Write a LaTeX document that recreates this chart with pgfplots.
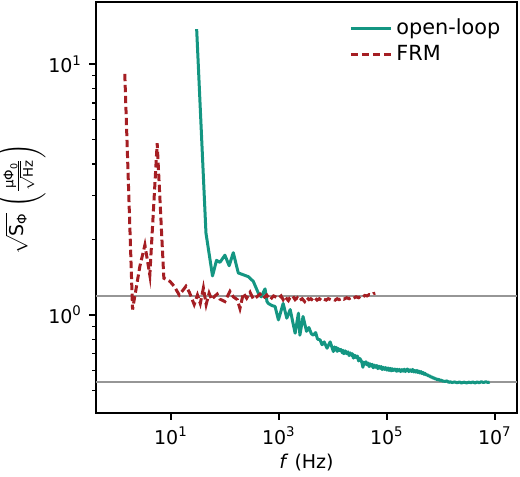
\documentclass[border=0pt]{standalone}
\usepackage{fontspec}
\setmainfont{DejaVu Sans}
\usepackage{amsmath}
\usepackage{pgfplots}
\pgfplotsset{compat=1.18}
\definecolor{olgreen}{RGB}{20,150,130}
\definecolor{frmred}{RGB}{165,30,35}
\definecolor{refgray}{RGB}{150,150,150}
\begin{document}
\begin{tikzpicture}[font=\fontsize{9.5}{11.4}\selectfont]
\path[use as bounding box] (-48pt,-32pt) rectangle (212pt,206.5pt);
\begin{axis}[
  at={(0,0)}, anchor=south west, scale only axis,
  width=210.5pt, height=205.5pt,
  xmode=log, ymode=log,
  xmin=0.41, xmax=2.57e7, ymin=0.406, ymax=17.7,
  axis line style={line width=0.9pt},
  tick align=outside, tick pos=left,
  xtick={10,1000,100000,10000000},
  xticklabels={10\textsuperscript{1},10\textsuperscript{3},10\textsuperscript{5},10\textsuperscript{7}},
  minor xtick={},
  ytick={1,10},
  yticklabels={10\textsuperscript{0},10\textsuperscript{1}},
  minor ytick={0.5,0.6,0.7,0.8,0.9,2,3,4,5,6,7,8,9},
  major tick length=3.5pt, minor tick length=2pt,
  every tick/.style={black, line width=0.8pt},
  every minor tick/.style={black, line width=0.6pt},
  xlabel={\textit{f} (Hz)},
  ylabel={$\sqrt{\text{S}_{\text{Φ}}}\;\Biggl(\frac{\text{μΦ}_{\text{0}}}{\sqrt{\text{Hz}}}\Biggr)$},
  xlabel style={at={(axis description cs:0.5,-0.1217)}, anchor=center},
  ylabel style={at={(axis description cs:-0.184,0.52)}, anchor=center, inner sep=0pt},
  legend style={draw=none, fill=none, at={(axis description cs:0.985,0.98)}, anchor=north east,
    row sep=0pt, font=\fontsize{10.4}{12.5}\selectfont},
  legend cell align=left,
  legend image code/.code={\draw[#1] (0pt,0pt) -- (20pt,0pt);},
]
\addplot[refgray, line width=1pt, forget plot] coordinates {(0.41,1.19) (2.57e7,1.19)};
\addplot[refgray, line width=1pt, forget plot] coordinates {(0.41,0.541) (2.57e7,0.541)};
\addplot[olgreen, line width=1.5pt, line join=round] coordinates {
(30,13.8) (44.6,2.12) (59,1.43) (70,1.65) (81,1.62) (100,1.73) (120,1.57) (143,1.77)
(177,1.47) (272,1.42) (336,1.36) (417,1.22) (470,1.18) (555,1.27) (602,1.13) (640,1.11)
(740,1.09) (850,1.08) (980,0.955) (1100,1.04) (1200,1.11) (1400,0.97) (1620,1.05)
(1820,0.93) (2000,0.845) (2300,1.015) (2450,0.83) (2800,0.985) (3250,0.86) (3600,0.89)
(4000,0.84) (4350,0.83) (4800,0.85) (5200,0.80) (5800,0.795) (6300,0.76) (6900,0.78)
(7800,0.736) (8900,0.78) (10200,0.714) (10700,0.745) (11000,0.725) (11500,0.742)
(12000,0.715) (12500,0.735) (13000,0.72) (14000,0.728) (15000,0.705) (15500,0.722)
(16000,0.70) (17000,0.718) (18000,0.70) (19000,0.712) (20000,0.688) (21000,0.705)
(22000,0.69) (23000,0.70) (24000,0.672) (25500,0.69) (27000,0.675) (28500,0.685)
(30000,0.655) (31500,0.67) (33000,0.66) (34500,0.645) (36000,0.618) (37500,0.648)
(39000,0.635) (41000,0.65) (43000,0.632) (45000,0.642) (47000,0.622) (49000,0.638)
(51000,0.625) (53500,0.635) (56000,0.615) (59000,0.63) (62000,0.618) (65000,0.628)
(68000,0.61) (71500,0.624) (75000,0.612) (78500,0.622) (82000,0.605) (86000,0.618)
(91000,0.606) (95000,0.616) (100000,0.602) (105000,0.614) (110000,0.600) (115000,0.612)
(120000,0.598) (125000,0.610) (130000,0.600) (140000,0.608) (150000,0.596) (155000,0.607)
(160000,0.597) (170000,0.606) (180000,0.594) (190000,0.605) (200000,0.596) (210000,0.607)
(220000,0.594) (230000,0.603) (240000,0.608) (255000,0.594) (270000,0.604) (285000,0.595)
(300000,0.606) (315000,0.592) (330000,0.600) (345000,0.591) (360000,0.600) (375000,0.589)
(390000,0.597) (410000,0.586) (430000,0.594) (450000,0.583) (470000,0.589) (490000,0.579)
(510000,0.584) (535000,0.575) (560000,0.578) (590000,0.570) (620000,0.572) (650000,0.564)
(680000,0.566) (715000,0.559) (750000,0.561) (785000,0.555) (820000,0.556) (860000,0.551)
(910000,0.553) (950000,0.548) (1000000,0.549) (1100000,0.544) (1200000,0.543)
(1300000,0.545) (1400000,0.538) (1500000,0.541) (1600000,0.537) (1800000,0.540)
(2000000,0.536) (2200000,0.540) (2400000,0.535) (2700000,0.539) (3000000,0.535)
(3300000,0.539) (3600000,0.536) (3900000,0.540) (4300000,0.535) (4700000,0.540)
(5100000,0.536) (5600000,0.541) (6200000,0.537) (6800000,0.541) (7500000,0.537) (8000000,0.540)
};
\addlegendentry{open-loop}
\addplot[frmred, line width=1.5pt, dash pattern=on 3.7pt off 1.8pt] coordinates {
(1.4,9.15) (1.95,1.05) (2.66,1.56) (3.3,1.90) (4.07,1.44) (5.57,4.84) (7.4,1.40)
(8.5,1.38) (9.6,1.36) (11.5,1.30) (14.3,1.20) (19,1.30) (22,1.23) (27,1.10) (31,1.20)
(35,1.11) (40,1.28) (45,1.10) (51,1.22) (57,1.15) (63,1.18) (72,1.21) (81,1.155)
(100,1.13) (124,1.24) (143,1.18) (170,1.15) (190,1.06) (220,1.22) (253,1.165)
(293,1.23) (338,1.155) (390,1.18) (447,1.21) (515,1.165) (596,1.20) (690,1.15)
(795,1.19) (980,1.165) (1100,1.19) (1200,1.15) (1300,1.18) (1500,1.14) (1600,1.17)
(1800,1.19) (2000,1.15) (2200,1.17) (2400,1.14) (2700,1.16) (3000,1.13) (3300,1.17)
(3600,1.15) (3900,1.16) (4300,1.14) (4700,1.165) (5100,1.145) (5600,1.16) (6200,1.14)
(6800,1.155) (7500,1.145) (8200,1.16) (9100,1.15) (10000,1.155) (11000,1.145)
(12000,1.16) (13000,1.15) (15000,1.165) (16000,1.155) (18000,1.17) (20000,1.16)
(22000,1.175) (24000,1.165) (27000,1.18) (30000,1.17) (33000,1.19) (36000,1.18)
(39000,1.195) (43000,1.19) (47000,1.205) (51000,1.20) (56000,1.215) (61000,1.22)
};
\addlegendentry{FRM}
\end{axis}
\end{tikzpicture}
\end{document}
